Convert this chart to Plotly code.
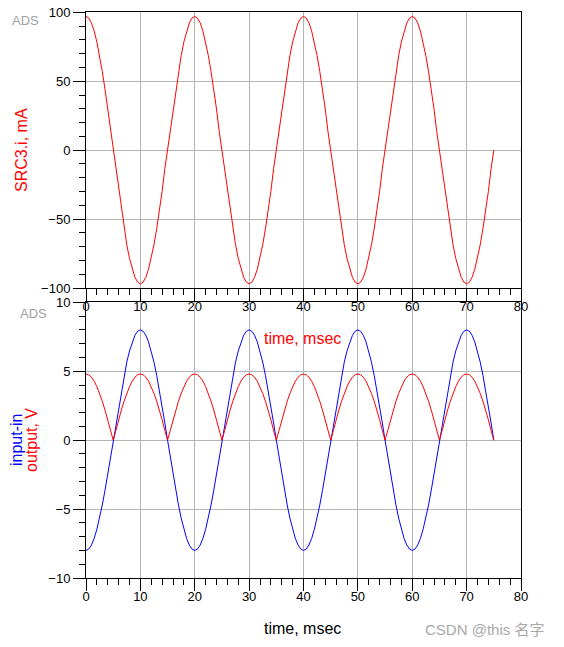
import plotly.graph_objects as go

# sample instants, ms (0 .. 75 every 0.5 ms)
time_ms = [i * 0.5 for i in range(151)]

# SRC3.i, mA
src3_i = [
    97.0, 95.8, 92.3, 86.4, 78.5, 68.6, 57.0, 44.0, 29.9, 13.5, 0.0, -13.5, -29.9, -44.0, -57.0, -68.6, -78.5, -86.4, -92.3, -95.8, -97.0,
    -95.8, -92.3, -86.4, -78.5, -68.6, -57.0, -44.0, -29.9, -13.5, 0.0, 13.5, 29.9, 44.0, 57.0, 68.6, 78.5, 86.4, 92.3, 95.8, 97.0,
    95.8, 92.3, 86.4, 78.5, 68.6, 57.0, 44.0, 29.9, 13.5, 0.0, -13.5, -29.9, -44.0, -57.0, -68.6, -78.5, -86.4, -92.3, -95.8, -97.0,
    -95.8, -92.3, -86.4, -78.5, -68.6, -57.0, -44.0, -29.9, -13.5, 0.0, 13.5, 29.9, 44.0, 57.0, 68.6, 78.5, 86.4, 92.3, 95.8, 97.0,
    95.8, 92.3, 86.4, 78.5, 68.6, 57.0, 44.0, 29.9, 13.5, 0.0, -13.5, -29.9, -44.0, -57.0, -68.6, -78.5, -86.4, -92.3, -95.8, -97.0,
    -95.8, -92.3, -86.4, -78.5, -68.6, -57.0, -44.0, -29.9, -13.5, 0.0, 13.5, 29.9, 44.0, 57.0, 68.6, 78.5, 86.4, 92.3, 95.8, 97.0,
    95.8, 92.3, 86.4, 78.5, 68.6, 57.0, 44.0, 29.9, 13.5, 0.0, -13.5, -29.9, -44.0, -57.0, -68.6, -78.5, -86.4, -92.3, -95.8, -97.0,
    -95.8, -92.3, -86.4, -78.5, -68.6, -57.0, -44.0, -29.9, -13.5, 0.0,
]

# input-in, V (blue, bottom panel)
input_in = [
    -8.00, -7.90, -7.61, -7.13, -6.47, -5.66, -4.70, -3.63, -2.47, -1.25, 0.00, 1.25, 2.47, 3.63, 4.70, 5.66, 6.47, 7.13, 7.61, 7.90, 8.00,
    7.90, 7.61, 7.13, 6.47, 5.66, 4.70, 3.63, 2.47, 1.25, 0.00, -1.25, -2.47, -3.63, -4.70, -5.66, -6.47, -7.13, -7.61, -7.90, -8.00,
    -7.90, -7.61, -7.13, -6.47, -5.66, -4.70, -3.63, -2.47, -1.25, 0.00, 1.25, 2.47, 3.63, 4.70, 5.66, 6.47, 7.13, 7.61, 7.90, 8.00,
    7.90, 7.61, 7.13, 6.47, 5.66, 4.70, 3.63, 2.47, 1.25, 0.00, -1.25, -2.47, -3.63, -4.70, -5.66, -6.47, -7.13, -7.61, -7.90, -8.00,
    -7.90, -7.61, -7.13, -6.47, -5.66, -4.70, -3.63, -2.47, -1.25, 0.00, 1.25, 2.47, 3.63, 4.70, 5.66, 6.47, 7.13, 7.61, 7.90, 8.00,
    7.90, 7.61, 7.13, 6.47, 5.66, 4.70, 3.63, 2.47, 1.25, 0.00, -1.25, -2.47, -3.63, -4.70, -5.66, -6.47, -7.13, -7.61, -7.90, -8.00,
    -7.90, -7.61, -7.13, -6.47, -5.66, -4.70, -3.63, -2.47, -1.25, 0.00, 1.25, 2.47, 3.63, 4.70, 5.66, 6.47, 7.13, 7.61, 7.90, 8.00,
    7.90, 7.61, 7.13, 6.47, 5.66, 4.70, 3.63, 2.47, 1.25, 0.00,
]

# output, V (red, bottom panel)
output_v = [
    4.80, 4.74, 4.57, 4.28, 3.88, 3.39, 2.82, 2.18, 1.48, 0.70, 0.00, 0.70, 1.48, 2.18, 2.82, 3.39, 3.88, 4.28, 4.57, 4.74, 4.80,
    4.74, 4.57, 4.28, 3.88, 3.39, 2.82, 2.18, 1.48, 0.70, 0.00, 0.70, 1.48, 2.18, 2.82, 3.39, 3.88, 4.28, 4.57, 4.74, 4.80,
    4.74, 4.57, 4.28, 3.88, 3.39, 2.82, 2.18, 1.48, 0.70, 0.00, 0.70, 1.48, 2.18, 2.82, 3.39, 3.88, 4.28, 4.57, 4.74, 4.80,
    4.74, 4.57, 4.28, 3.88, 3.39, 2.82, 2.18, 1.48, 0.70, 0.00, 0.70, 1.48, 2.18, 2.82, 3.39, 3.88, 4.28, 4.57, 4.74, 4.80,
    4.74, 4.57, 4.28, 3.88, 3.39, 2.82, 2.18, 1.48, 0.70, 0.00, 0.70, 1.48, 2.18, 2.82, 3.39, 3.88, 4.28, 4.57, 4.74, 4.80,
    4.74, 4.57, 4.28, 3.88, 3.39, 2.82, 2.18, 1.48, 0.70, 0.00, 0.70, 1.48, 2.18, 2.82, 3.39, 3.88, 4.28, 4.57, 4.74, 4.80,
    4.74, 4.57, 4.28, 3.88, 3.39, 2.82, 2.18, 1.48, 0.70, 0.00, 0.70, 1.48, 2.18, 2.82, 3.39, 3.88, 4.28, 4.57, 4.74, 4.80,
    4.74, 4.57, 4.28, 3.88, 3.39, 2.82, 2.18, 1.48, 0.70, 0.00,
]

W, H = 564, 647
FONT = "Liberation Sans, Arial, sans-serif"
GRID = "#b4b4b4"


def px_x(p):
    return p / W


def px_y(p):
    return 1 - p / H


fig = go.Figure()

fig.add_trace(go.Scatter(x=time_ms, y=src3_i, mode="lines",
                         line=dict(color="#ff0000", width=1),
                         xaxis="x", yaxis="y", showlegend=False))
fig.add_trace(go.Scatter(x=time_ms, y=input_in, mode="lines",
                         line=dict(color="#0000ff", width=1),
                         xaxis="x2", yaxis="y2", showlegend=False))
fig.add_trace(go.Scatter(x=time_ms, y=output_v, mode="lines",
                         line=dict(color="#ff0000", width=1),
                         xaxis="x2", yaxis="y2", showlegend=False))

xdom = [px_x(86), px_x(521)]

common = dict(
    showline=True, mirror=True, linecolor="black", linewidth=1,
    showgrid=True, gridcolor=GRID, gridwidth=1, zeroline=False,
    ticks="outside", ticklen=12, tickcolor="black", tickwidth=1,
    tickfont=dict(family=FONT, size=13, color="black"),
    automargin=False,
)

xax = dict(common, range=[0, 80], tick0=0, dtick=10,
           minor=dict(dtick=2, ticks="outside", ticklen=6, tickcolor="black", showgrid=False),
           domain=xdom, ticklabelstandoff=-6)

fig.update_layout(
    template="none",
    width=W, height=H, autosize=False,
    margin=dict(l=0, r=0, t=0, b=0, pad=0),
    paper_bgcolor="white", plot_bgcolor="white",
    font=dict(family=FONT),
    xaxis=dict(xax, anchor="y"),
    yaxis=dict(common, range=[-100, 100], tick0=0, dtick=50,
               minor=dict(dtick=10, ticks="outside", ticklen=6, tickcolor="black", showgrid=False),
               domain=[px_y(288), px_y(12.3)], anchor="x"),
    xaxis2=dict(xax, anchor="y2"),
    yaxis2=dict(common, range=[-10, 10], tick0=0, dtick=5,
                minor=dict(dtick=1, ticks="outside", ticklen=6, tickcolor="black", showgrid=False),
                domain=[px_y(578), px_y(302.3)], anchor="x2"),
)

annots = [
    # ADS marks
    dict(x=px_x(25), y=px_y(21), text="ADS", font=dict(size=13, color="#a0a0a0")),
    dict(x=px_x(33), y=px_y(314), text="ADS", font=dict(size=13, color="#a0a0a0")),
    # axis titles
    dict(x=px_x(22), y=px_y(150), text="SRC3.i, mA", textangle=-90,
         font=dict(size=16, color="#ff0000")),
    dict(x=px_x(16), y=px_y(440), text="input-in", textangle=-90,
         font=dict(size=16, color="#0000ff")),
    dict(x=px_x(31), y=px_y(440), text="output, V", textangle=-90,
         font=dict(size=16, color="#ff0000")),
    dict(x=px_x(302), y=px_y(338), text="time, msec",
         font=dict(size=16, color="#ff0000")),
    dict(x=px_x(302), y=px_y(628), text="time, msec",
         font=dict(size=16, color="black")),
    # watermark
    dict(x=px_x(484), y=px_y(629), text="CSDN @this 名字",
         font=dict(size=15, color="#a8a8a8",
                   family="Liberation Sans, Noto Sans CJK SC, sans-serif")),
]
for a in annots:
    a.setdefault("font", {})
    a["font"].setdefault("family", FONT)
    fig.add_annotation(xref="paper", yref="paper", showarrow=False,
                       xanchor="center", yanchor="middle", **a)

fig.write_html("out.html", config={"displayModeBar": False},
               post_script="document.body.style.margin='0';document.body.style.overflow='hidden';")
